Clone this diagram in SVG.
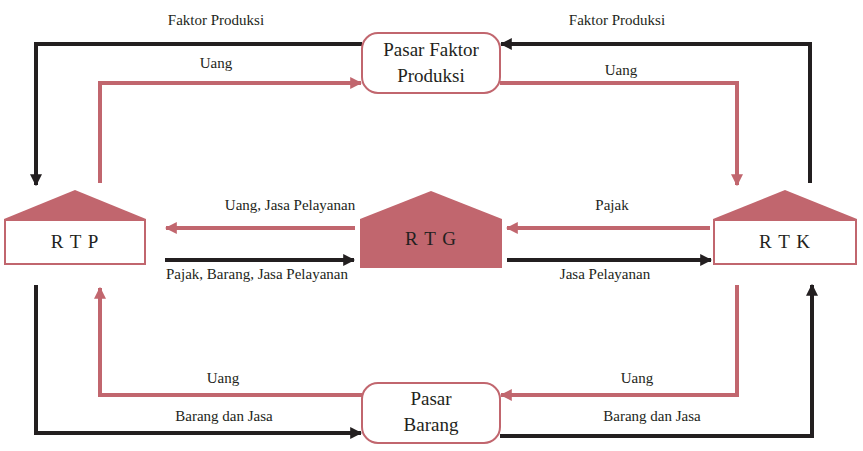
<svg xmlns="http://www.w3.org/2000/svg" width="863" height="451" viewBox="0 0 863 451">
<style>
text{font-family:"Liberation Serif","Times New Roman","DejaVu Serif",serif;fill:#231f20;text-anchor:middle}
.l{font-size:15px}
.n{font-size:19px}
.k{fill:none;stroke:#231f20;stroke-width:4}
.p{fill:none;stroke:#c1666e;stroke-width:4}
</style>
<defs>
<marker id="ak" viewBox="0 0 10 10" refX="9" refY="5" markerWidth="3" markerHeight="3" orient="auto" markerUnits="strokeWidth"><path d="M0,0L10,5L0,10z" fill="#231f20"/></marker>
<marker id="ap" viewBox="0 0 10 10" refX="9" refY="5" markerWidth="3" markerHeight="3" orient="auto" markerUnits="strokeWidth"><path d="M0,0L10,5L0,10z" fill="#c1666e"/></marker>
</defs>
<rect width="863" height="451" fill="#fff"/>
<g id="connectors">
<path class="k" d="M362,44H36V185" marker-end="url(#ak)"/>
<path class="p" d="M100,183V83H361" marker-end="url(#ap)"/>
<path class="p" d="M500,83H737V185" marker-end="url(#ap)"/>
<path class="k" d="M810,183V44H501" marker-end="url(#ak)"/>
<path class="p" d="M355,228H166" marker-end="url(#ap)"/>
<path class="k" d="M165,260H354" marker-end="url(#ak)"/>
<path class="p" d="M710,228H507" marker-end="url(#ap)"/>
<path class="k" d="M507,260H711" marker-end="url(#ak)"/>
<path class="k" d="M36,285V433H361" marker-end="url(#ak)"/>
<path class="p" d="M362,395H100V288" marker-end="url(#ap)"/>
<path class="p" d="M737,285V395H501" marker-end="url(#ap)"/>
<path class="k" d="M500,436H812V285" marker-end="url(#ak)"/>
</g>
<g id="labels">
<text class="l" x="216" y="25">Faktor Produksi</text>
<text class="l" x="617" y="25">Faktor Produksi</text>
<text class="l" x="216" y="68">Uang</text>
<text class="l" x="621" y="75">Uang</text>
<text class="l" x="290" y="210">Uang, Jasa Pelayanan</text>
<text class="l" x="257" y="279">Pajak, Barang, Jasa Pelayanan</text>
<text class="l" x="612" y="210">Pajak</text>
<text class="l" x="605" y="279">Jasa Pelayanan</text>
<text class="l" x="223" y="383">Uang</text>
<text class="l" x="637" y="383">Uang</text>
<text class="l" x="224" y="421">Barang dan Jasa</text>
<text class="l" x="652" y="421">Barang dan Jasa</text>
</g>
<g id="pasar-faktor">
<rect x="362" y="33" width="138" height="60" rx="16" fill="#fff" stroke="#c1666e" stroke-width="2"/>
<text class="n" x="431" y="56">Pasar Faktor</text>
<text class="n" x="431" y="82">Produksi</text>
</g>
<g id="pasar-barang">
<rect x="362" y="383" width="138" height="60" rx="16" fill="#fff" stroke="#c1666e" stroke-width="2"/>
<text class="n" x="431" y="405">Pasar</text>
<text class="n" x="431" y="431">Barang</text>
</g>
<g id="rtp">
<path d="M4,219L75,190L146,219Z" fill="#c1666e"/>
<rect x="5" y="220" width="140" height="44" fill="#fff" stroke="#c1666e" stroke-width="2"/>
<text class="n" x="75" y="248" letter-spacing="1">R T P</text>
</g>
<g id="rtg">
<path d="M360,219L431,191L502,219V268H360Z" fill="#c1666e"/>
<text class="n" x="431" y="245" letter-spacing="1">R T G</text>
</g>
<g id="rtk">
<path d="M713,219L785,190L857,219Z" fill="#c1666e"/>
<rect x="714" y="220" width="142" height="44" fill="#fff" stroke="#c1666e" stroke-width="2"/>
<text class="n" x="785" y="248" letter-spacing="1">R T K</text>
</g>
</svg>
